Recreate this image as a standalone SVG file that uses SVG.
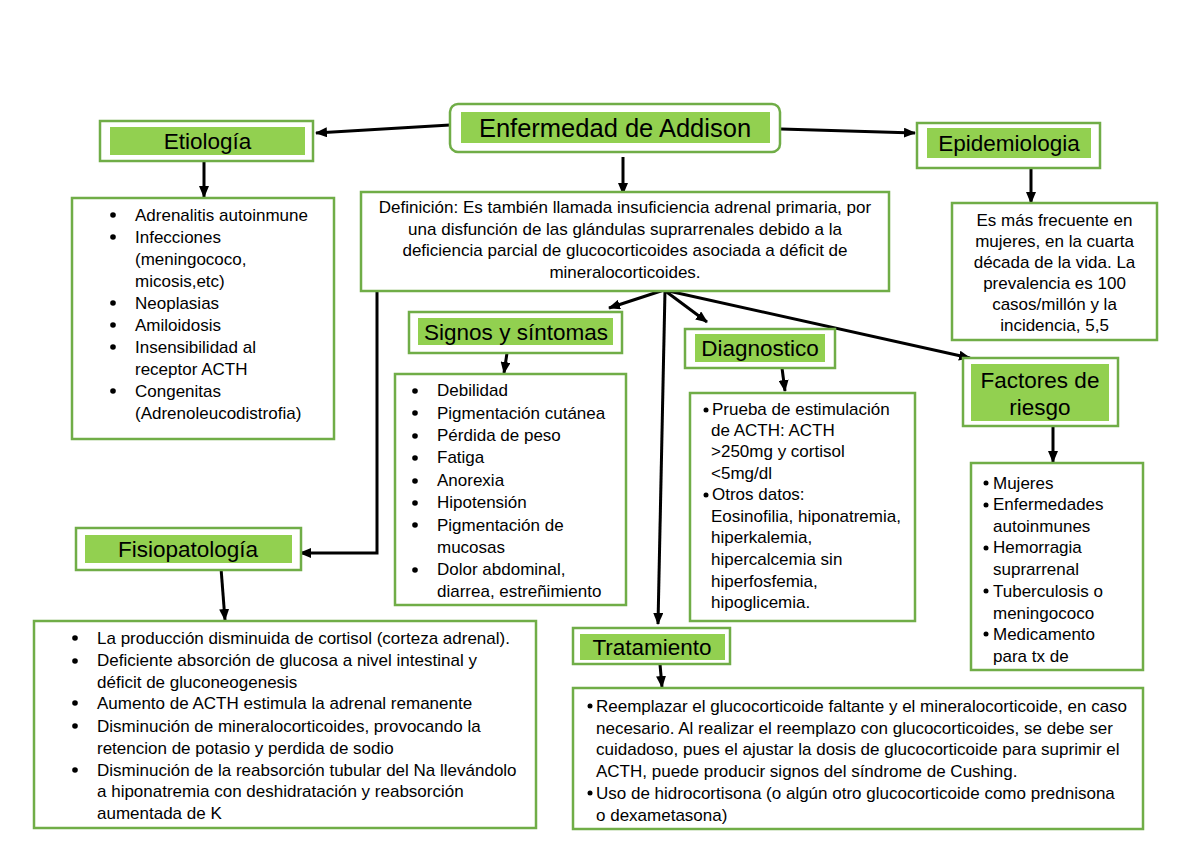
<svg xmlns="http://www.w3.org/2000/svg" width="1200" height="849" viewBox="0 0 1200 849">
<defs>
<style>
.box{fill:#fff;stroke:#70ad47;stroke-width:2.5}
.hdr{fill:#92d050}
.t{font-family:"Liberation Sans",Arial,sans-serif;font-size:17px;fill:#000}
.h{font-size:22.5px}
.ti{font-size:25.5px}
.c{text-anchor:middle}
.conn{stroke:#000;stroke-width:3;fill:none;marker-end:url(#ah)}
.b{fill:#000}
</style>
<marker id="ah" markerUnits="userSpaceOnUse" markerWidth="12" markerHeight="10" viewBox="0 0 12 10" refX="11" refY="5" orient="auto">
<path d="M0,0 L12,5 L0,10 z" fill="#000"/>
</marker>
</defs>
<rect width="1200" height="849" fill="#fff"/>

<g id="connectors">
<path class="conn" d="M450,125 L316,133"/>
<path class="conn" d="M781,129 L915,133"/>
<path class="conn" d="M623,157 L623,194"/>
<path class="conn" d="M204,161 L204,197"/>
<path class="conn" d="M1031,168 L1031,203"/>
<path class="conn" d="M664,290 L609,308"/>
<path class="conn" d="M664,290 L707,322"/>
<path class="conn" d="M664,290 L970,358"/>
<path class="conn" d="M665,290 L658,624"/>
<path class="conn" d="M377,291 L377,553 L300,553"/>
<path class="conn" d="M507,353 L504,373"/>
<path class="conn" d="M782,368 L785,391"/>
<path class="conn" d="M1053,426 L1053,462"/>
<path class="conn" d="M221,568 L225,620"/>
<path class="conn" d="M660,664 L662,687"/>
</g>

<g id="title">
<rect class="box" x="450" y="104" width="330" height="48" rx="8"/>
<rect class="hdr" x="461" y="112" width="309" height="31"/>
<text class="t ti c" x="615" y="136.5">Enfermedad de Addison</text>
</g>

<g id="etiologia">
<rect class="box" x="100" y="121" width="213" height="40"/>
<rect class="hdr" x="110" y="127" width="195" height="28"/>
<text class="t h c" x="207.5" y="149">Etiología</text>
</g>

<g id="etiologia-list">
<rect class="box" x="72" y="198" width="262" height="241"/>
<g class="b"><circle cx="113" cy="215" r="2.8"/><circle cx="113" cy="237" r="2.8"/><circle cx="113" cy="303" r="2.8"/><circle cx="113" cy="325" r="2.8"/><circle cx="113" cy="347" r="2.8"/><circle cx="113" cy="391" r="2.8"/></g>
<text class="t" x="135" y="221">Adrenalitis autoinmune</text>
<text class="t" x="135" y="243">Infecciones</text>
<text class="t" x="135" y="265">(meningococo,</text>
<text class="t" x="135" y="287">micosis,etc)</text>
<text class="t" x="135" y="309">Neoplasias</text>
<text class="t" x="135" y="331">Amiloidosis</text>
<text class="t" x="135" y="353">Insensibilidad al</text>
<text class="t" x="135" y="375">receptor ACTH</text>
<text class="t" x="135" y="397">Congenitas</text>
<text class="t" x="135" y="419">(Adrenoleucodistrofia)</text>
</g>

<g id="definicion">
<rect class="box" x="361" y="192" width="528" height="99"/>
<text class="t c" x="625" y="213">Definición: Es también llamada insuficiencia adrenal primaria, por</text>
<text class="t c" x="625" y="234.5">una disfunción de las glándulas suprarrenales debido a la</text>
<text class="t c" x="625" y="256">deficiencia parcial de glucocorticoides asociada a déficit de</text>
<text class="t c" x="625" y="277.5">mineralocorticoides.</text>
</g>

<g id="epidemiologia">
<rect class="box" x="917" y="123" width="183" height="45"/>
<rect class="hdr" x="927" y="128" width="164" height="30"/>
<text class="t h c" x="1009" y="151">Epidemiologia</text>
</g>

<g id="epidemiologia-text">
<rect class="box" x="952" y="203" width="205" height="137"/>
<text class="t c" x="1054.5" y="226">Es más frecuente en</text>
<text class="t c" x="1054.5" y="247">mujeres, en la cuarta</text>
<text class="t c" x="1054.5" y="268">década de la vida. La</text>
<text class="t c" x="1054.5" y="289">prevalencia es 100</text>
<text class="t c" x="1054.5" y="310">casos/millón y la</text>
<text class="t c" x="1054.5" y="331">incidencia, 5,5</text>
</g>

<g id="signos">
<rect class="box" x="409" y="312" width="213" height="41"/>
<rect class="hdr" x="418" y="318" width="195" height="27"/>
<text class="t h c" x="516" y="339.5">Signos y síntomas</text>
</g>

<g id="signos-list">
<rect class="box" x="395" y="374" width="231" height="231"/>
<g class="b"><circle cx="415" cy="391" r="2.8"/><circle cx="415" cy="413" r="2.8"/><circle cx="415" cy="436" r="2.8"/><circle cx="415" cy="458" r="2.8"/><circle cx="415" cy="481" r="2.8"/><circle cx="415" cy="503" r="2.8"/><circle cx="415" cy="525" r="2.8"/><circle cx="415" cy="570" r="2.8"/></g>
<text class="t" x="437" y="396">Debilidad</text>
<text class="t" x="437" y="419">Pigmentación cutánea</text>
<text class="t" x="437" y="441">Pérdida de peso</text>
<text class="t" x="437" y="463">Fatiga</text>
<text class="t" x="437" y="486">Anorexia</text>
<text class="t" x="437" y="508">Hipotensión</text>
<text class="t" x="437" y="531">Pigmentación de</text>
<text class="t" x="437" y="553">mucosas</text>
<text class="t" x="437" y="575">Dolor abdominal,</text>
<text class="t" x="437" y="597">diarrea, estreñimiento</text>
</g>

<g id="diagnostico">
<rect class="box" x="685" y="329" width="150" height="39"/>
<rect class="hdr" x="695" y="334" width="130" height="28"/>
<text class="t h c" x="760" y="356">Diagnostico</text>
</g>

<g id="diagnostico-list">
<rect class="box" x="690" y="393" width="225" height="228"/>
<g class="b"><circle cx="706" cy="410" r="2.5"/><circle cx="706" cy="495" r="2.5"/></g>
<text class="t" x="712" y="415">Prueba de estimulación</text>
<text class="t" x="711" y="436">de ACTH: ACTH</text>
<text class="t" x="711" y="457">&gt;250mg y cortisol</text>
<text class="t" x="711" y="479">&lt;5mg/dl</text>
<text class="t" x="712" y="500">Otros datos:</text>
<text class="t" x="711" y="522">Eosinofilia, hiponatremia,</text>
<text class="t" x="711" y="543">hiperkalemia,</text>
<text class="t" x="711" y="565">hipercalcemia sin</text>
<text class="t" x="711" y="587">hiperfosfemia,</text>
<text class="t" x="711" y="608">hipoglicemia.</text>
</g>

<g id="factores">
<rect class="box" x="963" y="358" width="155" height="68"/>
<rect class="hdr" x="971" y="364" width="138" height="57"/>
<text class="t h c" x="1040" y="388">Factores de</text>
<text class="t h c" x="1040" y="415">riesgo</text>
</g>

<g id="factores-list">
<rect class="box" x="971" y="463" width="172" height="207"/>
<g class="b"><circle cx="986" cy="483" r="2.5"/><circle cx="986" cy="505" r="2.5"/><circle cx="986" cy="548" r="2.5"/><circle cx="986" cy="591" r="2.5"/><circle cx="986" cy="634" r="2.5"/></g>
<text class="t" x="993" y="489">Mujeres</text>
<text class="t" x="993" y="510">Enfermedades</text>
<text class="t" x="993" y="532">autoinmunes</text>
<text class="t" x="993" y="553">Hemorragia</text>
<text class="t" x="993" y="575">suprarrenal</text>
<text class="t" x="993" y="597">Tuberculosis o</text>
<text class="t" x="993" y="619">meningococo</text>
<text class="t" x="993" y="640">Medicamento</text>
<text class="t" x="993" y="662">para tx de</text>
</g>

<g id="fisiopatologia">
<rect class="box" x="76" y="528" width="225" height="42"/>
<rect class="hdr" x="85" y="535" width="207" height="28"/>
<text class="t h c" x="188" y="557">Fisiopatología</text>
</g>

<g id="fisiopatologia-list">
<rect class="box" x="34" y="621" width="502" height="207"/>
<g class="b"><circle cx="75" cy="638" r="2.8"/><circle cx="75" cy="661" r="2.8"/><circle cx="75" cy="703" r="2.8"/><circle cx="75" cy="726" r="2.8"/><circle cx="75" cy="770" r="2.8"/></g>
<text class="t" x="97" y="644">La producción disminuida de cortisol (corteza adrenal).</text>
<text class="t" x="97" y="666">Deficiente absorción de glucosa a nivel intestinal y</text>
<text class="t" x="97" y="688">déficit de gluconeogenesis</text>
<text class="t" x="97" y="709">Aumento de ACTH estimula la adrenal remanente</text>
<text class="t" x="97" y="732">Disminución de mineralocorticoides, provocando la</text>
<text class="t" x="97" y="754">retencion de potasio y perdida de sodio</text>
<text class="t" x="97" y="776">Disminución de la reabsorción tubular del Na llevándolo</text>
<text class="t" x="97" y="797">a hiponatremia con deshidratación y reabsorción</text>
<text class="t" x="97" y="819">aumentada de K</text>
</g>

<g id="tratamiento">
<rect class="box" x="573" y="628" width="157" height="36"/>
<rect class="hdr" x="580" y="634" width="145" height="26"/>
<text class="t h c" x="652" y="655">Tratamiento</text>
</g>

<g id="tratamiento-list">
<rect class="box" x="573" y="688" width="570" height="141"/>
<g class="b"><circle cx="590" cy="706" r="2.5"/><circle cx="590" cy="793" r="2.5"/></g>
<text class="t" x="596" y="712">Reemplazar el glucocorticoide faltante y el mineralocorticoide, en caso</text>
<text class="t" x="596" y="734">necesario. Al realizar el reemplazo con glucocorticoides, se debe ser</text>
<text class="t" x="596" y="755">cuidadoso, pues el ajustar la dosis de glucocorticoide para suprimir el</text>
<text class="t" x="596" y="777">ACTH, puede producir signos del síndrome de Cushing.</text>
<text class="t" x="596" y="799">Uso de hidrocortisona (o algún otro glucocorticoide como prednisona</text>
<text class="t" x="596" y="821">o dexametasona)</text>
</g>
</svg>
